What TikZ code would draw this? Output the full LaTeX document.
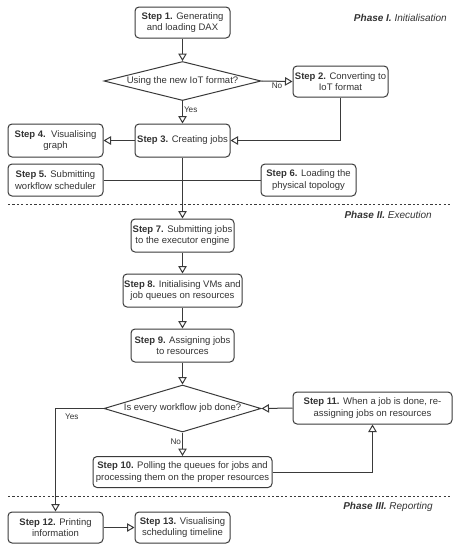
\documentclass[tikz,border=0pt]{standalone}
\usepackage{fontspec}
\setmainfont{Liberation Sans}
\usetikzlibrary{shapes.geometric,arrows.meta}
\definecolor{txt}{HTML}{333333}
\definecolor{ln}{HTML}{3a3a3a}
\begin{document}
\begin{tikzpicture}[x=1pt,y=-1pt,
  every node/.style={font=\fontsize{9.5}{11.5}\selectfont, text=txt},
  box/.style={draw=ln, line width=1pt, rounded corners=4pt, align=center, inner sep=0pt},
  dec/.style={draw=ln, line width=1pt, diamond, aspect=4, inner sep=0pt, align=center},
  arr/.style={draw=ln, line width=1pt, -{Triangle[open, length=7.5pt, width=8.5pt]}},
  ln/.style={draw=ln, line width=1pt},
  lbl/.style={font=\fontsize{8.2}{10}\selectfont, inner sep=0pt},
  phase/.style={font=\fontsize{10}{12}\selectfont\itshape, anchor=east, inner sep=0pt},
  sep/.style={draw=ln, line width=0.8pt, dash pattern=on 2.2pt off 2.2pt}]
\useasboundingbox (0,0) rectangle (457,550);
% Phase I
\node[box, minimum width=95, minimum height=31] (s1) at (182.5,22.5) {\textbf{Step 1.} Generating\\and loading DAX};
\node[dec, minimum width=157, minimum height=39] (d1) at (182.5,81) {Using the new IoT format?};
\node[box, minimum width=95, minimum height=31] (s2) at (340.5,81.5) {\textbf{Step 2.} Converting to\\IoT format};
\node[box, minimum width=95, minimum height=33] (s3) at (182.5,140.5) {\textbf{Step 3.} Creating jobs};
\node[box, minimum width=95, minimum height=33] (s4) at (55.5,140.5) {\textbf{Step 4.}\ \ Visualising\\graph};
\node[box, minimum width=95, minimum height=32] (s5) at (55.5,180) {\textbf{Step 5.} Submitting\\workflow scheduler};
\node[box, minimum width=95, minimum height=32] (s6) at (308.5,180) {\textbf{Step 6.} Loading the\\physical topology};
\node[phase] (p1) at (447,18) {\textbf{Phase I.} Initialisation};
% Phase II
\node[box, minimum width=103, minimum height=33] (s7) at (182.5,235.5) {\textbf{Step 7.} Submitting jobs\\to the executor engine};
\node[box, minimum width=119, minimum height=33] (s8) at (182.5,290.5) {\textbf{Step 8.} Initialising VMs and\\job queues on resources};
\node[box, minimum width=103, minimum height=33] (s9) at (182.5,345.5) {\textbf{Step 9.} Assigning jobs\\to resources};
\node[dec, minimum width=157, minimum height=47] (d2) at (182.5,408.5) {Is every workflow job done?};
\node[box, minimum width=159, minimum height=32] (s11) at (372.5,408) {\textbf{Step 11.} When a job is done, re-\\assigning jobs on resources};
\node[box, minimum width=179, minimum height=31] (s10) at (182.5,472) {\textbf{Step 10.} Polling the queues for jobs and\\processing them on the proper resources};
\node[phase] (p2) at (432,215) {\textbf{Phase II.} Execution};
% Phase III
\node[box, minimum width=95, minimum height=31] (s12) at (55.5,527.5) {\textbf{Step 12.} Printing\\information};
\node[box, minimum width=95, minimum height=31] (s13) at (182.5,527.5) {\textbf{Step 13.} Visualising\\scheduling timeline};
\node[phase] (p3) at (433,507) {\textbf{Phase III.} Reporting};
% separators
\coordinate (a1) at (8,204);
\coordinate (b1) at (452,204);
\coordinate (a2) at (8,496);
\coordinate (b2) at (452,496);
\draw[sep] (a1) -- (b1);
\draw[sep] (a2) -- (b2);
% connectors
\draw[arr] (s1) -- (d1);
\draw[arr] (d1.east) -- (s2.west) node[lbl, pos=0.5, below=1pt] {No};
\draw[arr] (d1.south) -- (s3.north) node[lbl, pos=0.4, right=1pt] {Yes};
\draw[arr] (s2.south) |- (s3.east);
\draw[arr] (s3.west) -- (s4.east);
\draw[ln] (s5.east) -- (s6.west);
\draw[arr] (s3.south) -- (s7.north);
\draw[arr] (s7) -- (s8);
\draw[arr] (s8) -- (s9);
\draw[arr] (s9.south) -- (d2.north);
\draw[arr] (s11.west) -- (d2.east);
\draw[arr] (d2.south) -- (s10.north) node[lbl, pos=0.4, left=1pt] {No};
\draw[arr] (s10.east) -| (s11.south);
\draw[arr] (d2.west) -| (s12.north) node[lbl, pos=0.33, below=5pt] {Yes};
\draw[arr] (s12.east) -- (s13.west);
\end{tikzpicture}
\end{document}
